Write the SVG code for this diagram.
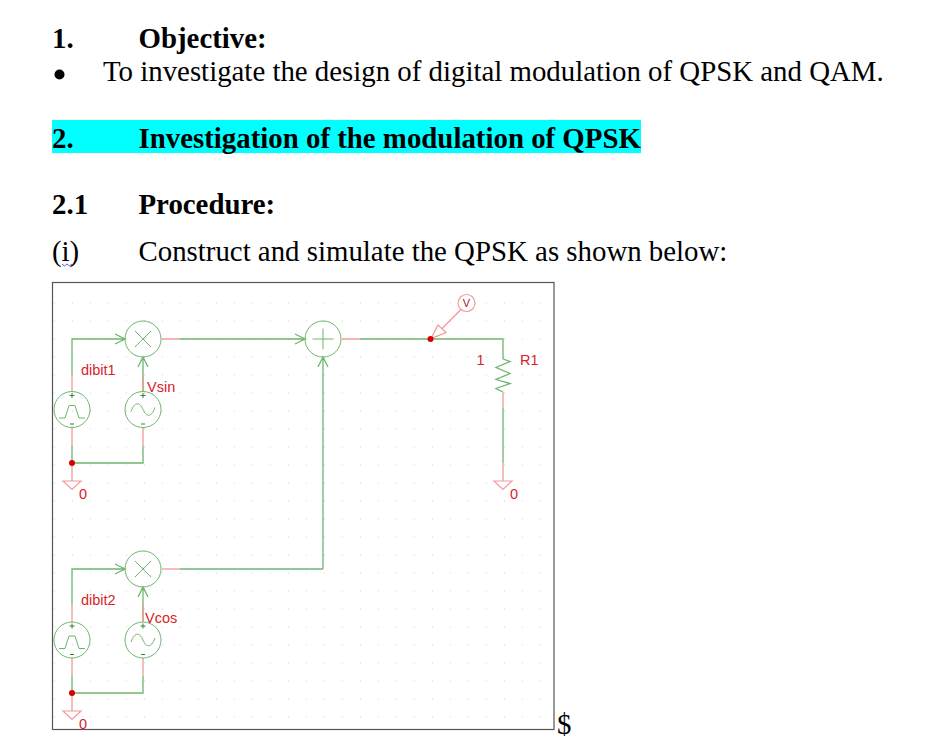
<svg xmlns="http://www.w3.org/2000/svg" width="952" height="749" viewBox="0 0 952 749">
<style>
.t{font-family:"Liberation Serif","Times New Roman",serif;font-size:28.85px;fill:#000}
.b{font-weight:bold}
.g{fill:none;stroke:#6fb56f;stroke-width:1.3}
.sym{fill:none;stroke:#6fb56f;stroke-width:1}
.r{fill:none;stroke:#f29a9a;stroke-width:1.3}
.l{font-family:"Liberation Sans",Arial,sans-serif;font-size:14.5px;fill:#d8232a}
.j{fill:#d90000}
.d{fill:none;stroke:#cfcfcf;stroke-width:1;stroke-dasharray:1 17}
.pm{fill:none;stroke:#2c8a2c;stroke-width:1}
</style>
<defs>
<g id="mult"><circle r="18" class="sym"/><path d="M-8-8L8 8M8-8L-8 8" class="sym"/></g>
<g id="pulse"><circle r="18" class="sym"/><path d="M-13 8.500H-7L-3-4H3L7 8.500H13" class="sym"/><path d="M-2.500-14H2.500M0-16.500V-11.500M-2 14.500H2" class="pm"/></g>
<g id="sine"><circle r="18" class="sym"/><path d="M-12 2C-8-9-3-7 0 0S8 9 12-2" class="sym"/><path d="M-2.500-14H2.500M0-16.500V-11.500M-2 14.500H2" class="pm"/></g>
<path id="gnd" d="M-9 0H9L0 8.500Z" fill="#fff" stroke="#f29a9a" stroke-width="1.200"/>
</defs>
<rect width="952" height="749" fill="#fff"/>
<rect x="52" y="120" width="589" height="33" fill="#00ffff"/>
<g id="text">
<text x="52" y="48" class="t b">1.</text>
<text x="138.500" y="48" class="t b">Objective:</text>
<circle cx="59.500" cy="74.500" r="5" fill="#000"/>
<text x="103" y="81" class="t">To investigate the design of digital modulation of QPSK and QAM.</text>
<text x="52" y="148" class="t b">2.</text>
<text x="138.500" y="148" class="t b">Investigation of the modulation of QPSK</text>
<text x="52" y="214" class="t b">2.1</text>
<text x="138.500" y="214" class="t b">Procedure:</text>
<text x="52" y="261" class="t">(i)</text>
<text x="138.500" y="261" class="t">Construct and simulate the QPSK as shown below:</text>
<path d="M62 264l2.500 2 2.500-2 2.500 2 2.500-2" fill="none" stroke="#3a3ad0" stroke-width=".8"/>
<text x="557" y="734" class="t">$</text>
</g>
<rect id="frame" x="52.500" y="282.500" width="501.500" height="447" fill="#fff" stroke="#555" stroke-width="1.2"/>
<g id="grid">
<path class="d" d="M54 303H552M54 321H552M54 339H552M54 357H552M54 375H552M54 393H552M54 411H552M54 429H552M54 447H552M54 465H552M54 483H552M54 501H552M54 519H552M54 537H552M54 555H552M54 573H552M54 591H552M54 609H552M54 627H552M54 645H552M54 663H552M54 681H552M54 699H552M54 717H552"/>
</g>
<g id="connectors">
<path class="g" d="M72 375V339H124M115 334l10 5-10 5"/>
<path class="g" d="M143 391V358M138 367l5-10 5 10"/>
<path class="g" d="M72 446V463H143V446"/>
<path class="g" d="M180 339H304M295 334l10 5-10 5"/>
<path class="g" d="M360 339H503V359"/>
<path class="r" d="M162 339H180M342 339H360"/>
<path class="g" d="M323 569V358M318 367l5-10 5 10"/>
<path class="g" d="M180 569H323"/>
<path class="r" d="M162 569H180"/>
<path class="g" d="M503 408V463"/>
<path class="r" d="M503 392V408M503 463V481"/>
<path class="r" d="M72 375V391M143 375V391M72 428V446M143 428V446M72 463V481"/>
<path class="g" d="M72 605V569H124M115 564l10 5-10 5"/>
<path class="g" d="M143 621V588M138 597l5-10 5 10"/>
<path class="g" d="M72 676V693H143V676"/>
<path class="r" d="M72 605V622M143 605V622M72 658V676M143 658V676M72 693V711"/>
<path class="r" d="M461 309.500L442 328.500M431 338.500L438 325L446 332.500Z"/>
</g>
<g id="mult1"><use href="#mult" x="143" y="339"/></g>
<g id="sum"><circle cx="323" cy="339" r="18" class="sym"/><path d="M312.500 339H333.500M323 328.500V349.500" class="sym"/></g>
<g id="mult2"><use href="#mult" x="143" y="569"/></g>
<g id="dibit1"><use href="#pulse" x="72" y="409.500"/><text x="81" y="375" class="l">dibit1</text></g>
<g id="vsin"><use href="#sine" x="143" y="409.500"/><text x="147" y="392" class="l">Vsin</text></g>
<g id="dibit2"><use href="#pulse" x="72" y="640"/><text x="81" y="605" class="l">dibit2</text></g>
<g id="vcos"><use href="#sine" x="143" y="640"/><text x="145" y="623" class="l">Vcos</text></g>
<g id="j1"><circle cx="72" cy="463" r="3" class="j"/></g>
<g id="j2"><circle cx="72" cy="693" r="3" class="j"/></g>
<g id="j3"><circle cx="430.500" cy="339" r="3" class="j"/></g>
<g id="g1"><use href="#gnd" x="72" y="481"/><text x="79" y="499" class="l">0</text></g>
<g id="g2"><use href="#gnd" x="503" y="481"/><text x="510" y="499" class="l">0</text></g>
<g id="g3"><use href="#gnd" x="72" y="711"/><text x="79" y="729" class="l">0</text></g>
<g id="r1"><path class="g" d="M503 359L510 361.500L496 367.500L510 373.500L496 379.500L510 383.500L496 388.500L503 392"/><text x="476.500" y="365" class="l">1</text><text x="520" y="365" class="l">R1</text></g>
<g id="probe"><circle cx="466.500" cy="303" r="8.500" fill="#fff" stroke="#f29a9a" stroke-width="1.200"/><text x="466.500" y="307" text-anchor="middle" font-family="Liberation Sans,sans-serif" font-size="11" fill="#a01040">V</text></g>
</svg>
